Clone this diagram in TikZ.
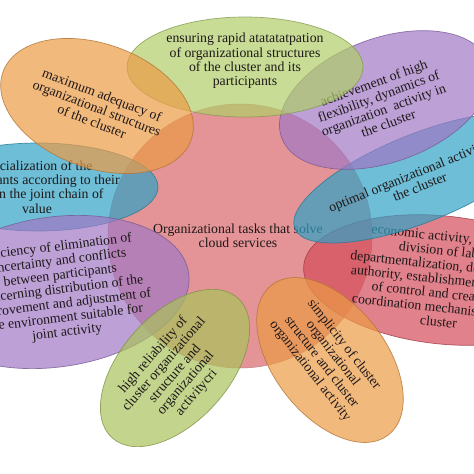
\documentclass[tikz,border=0pt]{standalone}
\usepackage{fontspec}
\setmainfont{Liberation Serif}
\usepackage{xcolor}
\usetikzlibrary{shapes.geometric}

\definecolor{ctrpink}{RGB}{228,148,150}
\definecolor{leafgreen}{RGB}{176,205,105}
\definecolor{leaforange}{RGB}{236,155,69}
\definecolor{leafpurple}{RGB}{160,120,196}
\definecolor{leafcyan}{RGB}{48,162,198}
\definecolor{leafred}{RGB}{212,76,91}
\definecolor{leafolive}{RGB}{169,194,91}
\definecolor{inkdark}{RGB}{30,24,24}

\begin{document}
\begin{tikzpicture}[
        x=1pt, y=-1pt,
        petal/.style={ellipse, draw=#1!75!black, fill=#1, fill opacity=0.7, draw opacity=0.8, line width=0.7pt, inner sep=0pt},
        hub/.style={circle, draw=ctrpink!85!black, fill=ctrpink, line width=0.5pt, inner sep=0pt},
        leaftext/.style={align=center, text=inkdark, font=\fontsize{13.8}{14.3}\selectfont, inner sep=0pt}
    ]
    \useasboundingbox (0,0) rectangle (474,474);
    \clip (0,0) rectangle (474,474);

    % Centre
    \node[hub, minimum size=264pt] (hub) at (240,236) {};
    \node[leaftext] (tasks) at (238,236) {Organizational tasks that solve\\cloud services};

    % Petals, left side
    \node[petal=leafcyan, minimum width=240pt, minimum height=88pt] (special) at (38,187) {};
    \node[leaftext] (tspecial) at (37,187) {specialization of the\\participants according to their\\role in the joint chain of\\value};

    \node[petal=leafpurple, minimum width=270pt, minimum height=150pt, rotate=8] (elim) at (55,292) {};
    \node[leaftext, rotate=7] (telim) at (62,290) {efficiency of elimination of\\uncertainty and conflicts\\between participants\\concerning distribution of the\\improvement and adjustment of\\the environment suitable for\\joint activity};

    % Petals, bottom and right
    \node[petal=leafolive, minimum width=188pt, minimum height=108pt, rotate=48] (reliab) at (175,368) {};
    \node[leaftext, rotate=49] (treliab) at (175,374) {high reliability of\\cluster organizational\\structure and\\organizational\\activitycri};

    \node[petal=leafred, minimum width=280pt, minimum height=128pt, rotate=-6] (econ) at (443,280) {};
    \node[leaftext, rotate=-6] (tecon) at (443,279) {economic activity, clear-cut\\division of labor,\\departmentalization, delegation of\\authority, establishment of norms\\of control and creation of\\coordination mechanisms of the\\cluster};

    \node[petal=leaforange, minimum width=190pt, minimum height=112pt, rotate=-52] (simpl) at (330,360) {};
    \node[leaftext, rotate=-52] (tsimpl) at (327,358) {simplicity of cluster\\organizational\\structure and cluster\\organizational activity};

    \node[petal=leafcyan, minimum width=270pt, minimum height=88pt, rotate=22] (optimal) at (420,178) {};
    \node[leaftext, rotate=22] (toptimal) at (417,180) {optimal organizational activity of\\the cluster};

    % Petals, top
    \node[petal=leafpurple, minimum width=220pt, minimum height=124pt, rotate=20] (flex) at (385,100) {};
    \node[leaftext, rotate=20] (tflex) at (381,103) {achievement of high\\flexibility, dynamics of\\organization\ \ activity in\\the cluster};

    \node[petal=leafgreen, minimum width=236pt, minimum height=100pt] (adapt) at (245,67) {};
    \node[leaftext] (tadapt) at (245,61) {ensuring rapid atatatatpation\\of organizational structures\\of the cluster and its\\participants};

    \node[petal=leaforange, minimum width=200pt, minimum height=124pt, rotate=-20] (adequacy) at (97,106) {};
    \node[leaftext, rotate=-21] (tadequacy) at (97,108) {maximum adequacy of\\organizational structures\\of the cluster};

\end{tikzpicture}
\end{document}
